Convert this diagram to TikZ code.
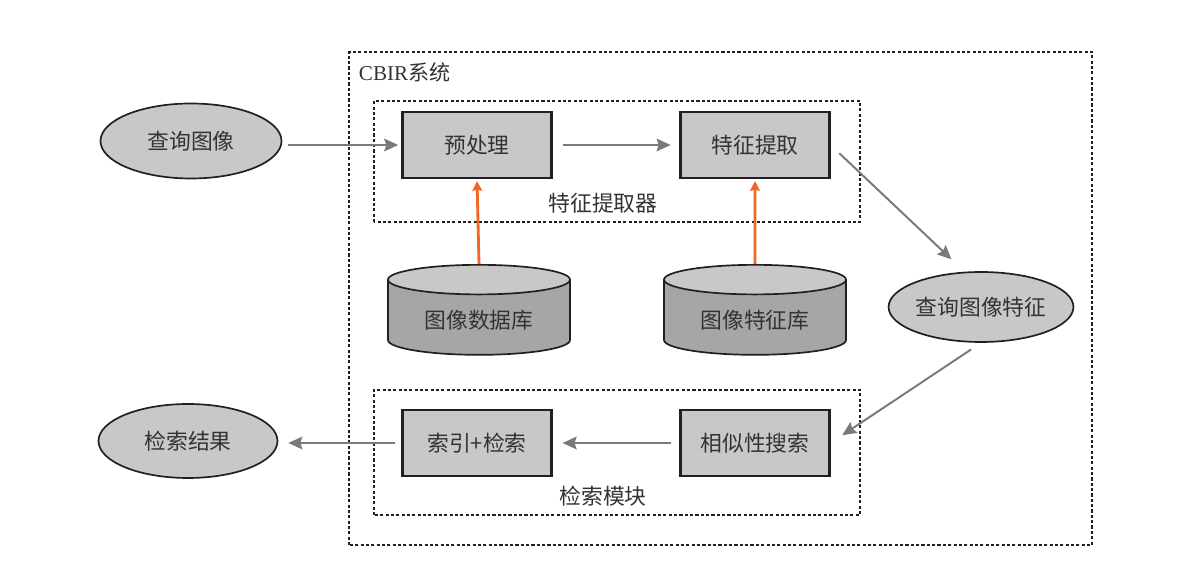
\documentclass[tikz,border=0pt]{standalone}
\usepackage{fontspec}
\setmainfont{Liberation Serif}
\newfontfamily\cjk{Noto Sans CJK SC}
\usetikzlibrary{arrows.meta,shapes.geometric}
\definecolor{boxgray}{HTML}{C8C8C8}
\definecolor{dbgray}{HTML}{A6A6A6}
\definecolor{edgedark}{HTML}{231F20}
\definecolor{textdark}{HTML}{333333}
\definecolor{arrowgray}{HTML}{7A7A7A}
\definecolor{linkorange}{HTML}{F26522}

\begin{document}
\begin{tikzpicture}[
  every node/.style={font=\cjk\fontsize{15.5}{18}\selectfont, text=textdark},
  proc/.style={draw=edgedark, line width=1.5pt, fill=boxgray, minimum width=3.725cm, minimum height=1.65cm},
  term/.style={ellipse, draw=edgedark, line width=1.2pt, fill=boxgray, inner sep=0pt},
  store/.style={cylinder, shape border rotate=90, aspect=0.25, draw=edgedark, line width=1.2pt,
    cylinder uses custom fill, cylinder body fill=dbgray, cylinder end fill=boxgray,
    minimum width=4.55cm, minimum height=2.25cm},
  flow/.style={-{Stealth[length=10pt,width=9pt,inset=1.5pt]}, draw=arrowgray, line width=1.4pt},
  feed/.style={-{Stealth[length=7pt,width=7pt,inset=1pt]}, draw=linkorange, line width=2pt},
  frame/.style={draw=edgedark, dash pattern=on 2.2pt off 1.6pt, line width=1.3pt}
]
\useasboundingbox (0,0) rectangle (29.6,14.125);

% frames
\draw[frame] (8.725,0.5) rectangle (27.3,12.825);
\draw[frame] (9.35,8.575) rectangle (21.5,11.6);
\draw[frame] (9.35,1.25) rectangle (21.5,4.375);
\node[anchor=west, font=\fontsize{15}{17}\selectfont] (sys) at (8.85,12.325) {CBIR{\cjk 系统}};
\node (fxlabel) at (15.075,9.05) {特征提取器};
\node (rtlabel) at (15.075,1.725) {检索模块};

% nodes
\node[term, minimum width=4.525cm, minimum height=1.875cm] (query) at (4.775,10.6) {查询图像};
\node[proc] (pre) at (11.925,10.5) {预处理};
\node[proc] (feat) at (18.875,10.5) {特征提取};
\node[store] (imgdb) at (11.975,6.125) {图像数据库};
\node[store] (featdb) at (18.875,6.125) {图像特征库};
\node[term, minimum width=4.55cm, minimum height=1.75cm] (qfeat) at (24.525,6.45) {查询图像特征};
\node[proc] (sim) at (18.875,3.05) {相似性搜索};
\node[proc] (idx) at (11.925,3.05) {索引+检索};
\node[term, minimum width=4.475cm, minimum height=1.85cm] (result) at (4.7,3.1) {检索结果};

% connectors
\draw[flow, shorten <=0.15cm, shorten >=0.08cm] (query.east |- pre) -- (pre);
\draw[flow, shorten <=0.25cm, shorten >=0.22cm] (pre) -- (feat);
\draw[flow, shorten <=0.3cm, shorten >=0.45cm] (feat.east) -- (qfeat.115);
\draw[flow, shorten <=0.3cm, shorten >=0.35cm] (qfeat.south) -- (sim.east);
\draw[flow, shorten <=0.2cm, shorten >=0.25cm] (sim) -- (idx);
\draw[flow, shorten <=0.15cm, shorten >=0.25cm] (idx) -- (result.east |- idx);
\draw[feed, shorten >=0.05cm] (imgdb.north) -- (pre.south);
\draw[feed, shorten >=0.05cm] (featdb.north) -- (feat.south);
\end{tikzpicture}
\end{document}
